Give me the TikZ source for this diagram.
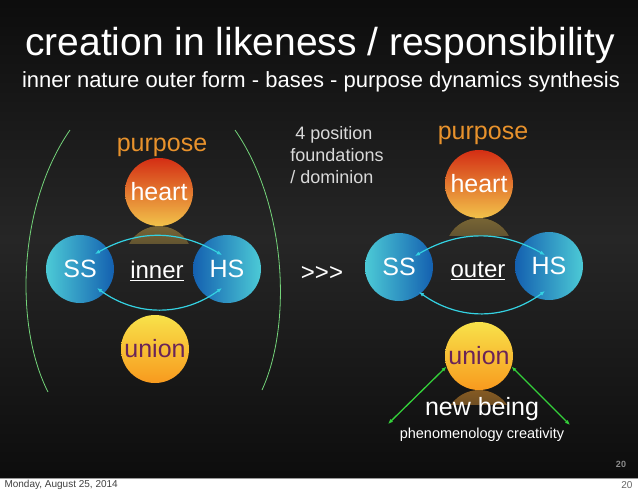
\documentclass[tikz,border=0pt]{standalone}
\usepackage{fontspec}
\setmainfont{Liberation Sans}
\usetikzlibrary{arrows.meta,positioning,calc}

\definecolor{slidebg}{HTML}{262626}
\definecolor{purposeorange}{HTML}{E8922C}
\definecolor{heartred}{HTML}{D42E14}
\definecolor{heartyellow}{HTML}{F2C24A}
\definecolor{sslight}{HTML}{4CCAD6}
\definecolor{ssdark}{HTML}{1460B0}
\definecolor{unionyellow}{HTML}{F8E24A}
\definecolor{unionorange}{HTML}{F89A1E}
\definecolor{unionpurple}{HTML}{6A2458}
\definecolor{linkcyan}{HTML}{34D2E2}
\definecolor{parengreen}{HTML}{74D47A}
\definecolor{beinggreen}{HTML}{34D03A}

\newcommand{\fs}[1]{\fontsize{#1}{#1}\selectfont}

\begin{document}
\begin{tikzpicture}[
    x=1pt, y=-1pt,
    every node/.style={font=\small},
    ball/.style={circle, minimum size=68pt, inner sep=0pt, text=white, font=\fs{25}},
    heartball/.style={ball, top color=heartred, bottom color=heartyellow},
    sideball/.style={ball, left color=sslight, right color=ssdark},
    sideballr/.style={ball, left color=ssdark, right color=sslight},
    unionball/.style={ball, top color=unionyellow, bottom color=unionorange, text=unionpurple},
    purposetext/.style={text=purposeorange, font=\fs{25}},
    plaintext/.style={text=white, font=\fs{24}},
    link/.style={linkcyan, line width=1.2pt, {Latex[length=5pt,width=4pt]}-{Latex[length=5pt,width=4pt]}},
    growlink/.style={beinggreen, line width=1.3pt, {Latex[length=5pt,width=4pt]}-{Latex[length=5pt,width=4pt]}},
    reflect/.style={top color=heartyellow!40!slidebg, middle color=slidebg, bottom color=slidebg}
]

% Slide background and footer strip
\useasboundingbox (0,0) rectangle (638,491);
\fill[white] (0,0) rectangle (638,491);
\fill[top color=black!95, bottom color=black!95, middle color=slidebg] (0,0) rectangle (638,478);
\draw[black!40] (0,478) -- (638,478);

% Titles
\node[text=white, font=\fs{39}] (title) at (320,45) {creation in likeness / responsibility};
\node[text=white, font=\fs{22}] (subtitle) at (321,82) {inner nature outer form - bases - purpose dynamics synthesis};

% Parentheses round the inner group
\draw[parengreen, line width=0.8pt] (70,130) .. controls (18,205) and (14,325) .. (48,392);
\draw[parengreen, line width=0.8pt] (235,130) .. controls (287,205) and (292,325) .. (262,390);

% Inner group
\node[purposetext] (purposeL) at (162,147) {purpose};
\begin{scope}
  \clip (120,226) rectangle (200,243);
  \fill[reflect] (159,260) circle (34);
\end{scope}
\node[heartball] (heartL) at (159,192) {heart};
\node[sideball] (ssL) at (80,269) {SS};
\node[sideballr] (hsL) at (227,269) {HS};
\node[plaintext] (innerL) at (157,271) {\underline{inner}};
\node[unionball] (unionL) at (155,349) {union};

\draw[link] ($(ssL)+(15,-15)$) to[bend left=30] ($(hsL)+(-5,-14)$);
\draw[link] ($(ssL)+(17,19)$) to[bend right=36] ($(hsL)+(-5,19)$);

% Middle text
\node[text=white!85!black, font=\fontsize{18}{22}\selectfont, align=left] (positions) at (337,155)
  {\ 4 position\\foundations\\/ dominion};
\node[plaintext] (more) at (322,273) {>{}>{}>};

% Outer group
\node[purposetext] (purposeR) at (483,135) {purpose};
\begin{scope}
  \clip (440,218) rectangle (520,235);
  \fill[reflect] (479,252) circle (34);
\end{scope}
\node[heartball] (heartR) at (479,184) {heart};
\node[sideball] (ssR) at (399,267) {SS};
\node[sideballr] (hsR) at (549,266) {HS};
\node[plaintext] (outerR) at (478,271) {\underline{outer}};
\begin{scope}
  \clip (440,390) rectangle (520,404);
  \fill[reflect, top color=unionorange!45!slidebg] (479,424) circle (34);
\end{scope}
\node[unionball] (unionR) at (479,356) {union};

\draw[link] ($(ssR)+(16,-11)$) to[bend left=30] ($(hsR)+(-4,-11)$);
\draw[link] ($(ssR)+(20,25)$) to[bend right=36] ($(hsR)+(-4,25)$);

% New being
\node[text=white, font=\fs{25}] (being) at (482,409) {new being};
\node[text=white, font=\fs{14.5}] (fields) at (482,435) {phenomenology creativity};
\coordinate (growL) at (388,424);
\coordinate (growR) at (570,425);
\draw[growlink] (unionR.198) -- (growL);
\draw[growlink] (unionR.-18) -- (growR);

% Slide number and footer
\node[text=black!45, font=\fs{9}\bfseries] (slideno) at (621,464) {20};
\node[anchor=west, text=black!75, font=\fs{10}] (date) at (1,485) {Monday, August 25, 2014};
\node[anchor=east, text=black!60, font=\fs{10}] (pageno) at (636,485) {20};

\end{tikzpicture}
\end{document}
